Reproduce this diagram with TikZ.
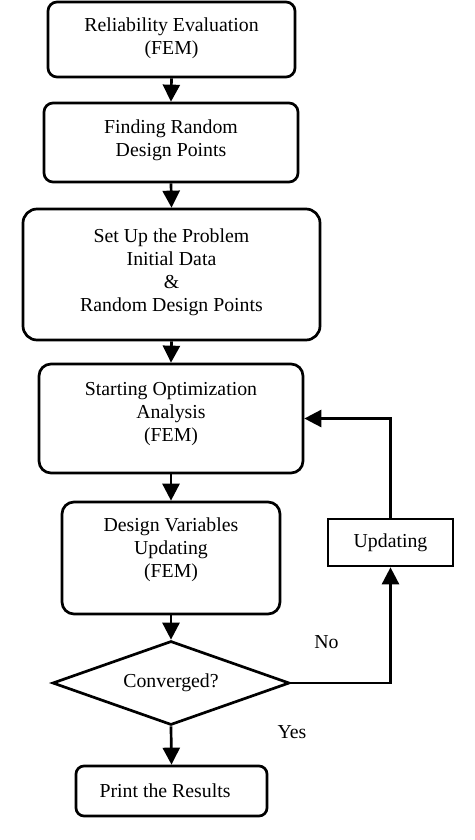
\documentclass[tikz,border=0pt]{standalone}
\usepackage{fontspec}
\setmainfont{Liberation Serif}
\usetikzlibrary{arrows.meta,shapes.geometric}
\begin{document}
\begin{tikzpicture}[x=1pt,y=-1pt,
  every node/.style={font=\fontsize{19.8}{23}\selectfont},
  rbox/.style={draw,line width=2.7pt,rounded corners=9pt,inner sep=0pt},
  sbox/.style={draw,line width=2.7pt,inner sep=0pt},
  txt/.style={align=center,inner sep=0pt},
  flow/.style={line width=2.7pt,-{Triangle[width=17pt,length=17pt]}},
  dec/.style={draw,line width=2.7pt,diamond,inner sep=0pt,minimum width=237pt,minimum height=84pt}]
\useasboundingbox (0,0) rectangle (474,840);
% boxes
\node[rbox,minimum width=247pt,minimum height=75pt] (b1) at (171.5,39.5) {};
\node[txt] (t1) at (171.5,38.5) {Reliability Evaluation\\(FEM)};
\node[rbox,minimum width=254pt,minimum height=79pt] (b2) at (171,142.5) {};
\node[txt] (t2) at (171,140) {Finding Random\\Design Points};
\node[rbox,rounded corners=14pt,minimum width=297pt,minimum height=131pt] (b3) at (171.5,274.5) {};
\node[txt] (t3) at (171.5,272) {Set Up the Problem\\Initial Data\\\&\\Random Design Points};
\node[rbox,rounded corners=12pt,minimum width=264pt,minimum height=109pt] (b4) at (171,418.5) {};
\node[txt] (t4) at (171,414.5) {Starting Optimization\\Analysis\\(FEM)};
\node[rbox,rounded corners=12pt,minimum width=218pt,minimum height=112pt] (b5) at (171,558) {};
\node[txt] (t5) at (171,550) {Design Variables\\Updating\\(FEM)};
\node[dec] (d) at (171,683) {};
\node[txt] (td) at (171,683) {Converged?};
\node[rbox,rounded corners=8pt,minimum width=191pt,minimum height=50pt] (b6) at (171.5,791) {};
\node[txt] (t6) at (165,791) {Print the Results};
\node[sbox,minimum width=125pt,minimum height=47pt] (up) at (390.5,542.5) {};
\node[txt] (tu) at (390.5,542.5) {Updating};
% labels
\node[txt] (no) at (326.5,642) {No};
\node[txt] (yes) at (292,732) {Yes};
% connectors
\draw[flow] (b1.south) -- (b2.north);
\draw[flow] (b2.south) -- (b3.north);
\draw[flow] (b3.south) -- (b4.north);
\draw[flow] (b4.south) -- (b5.north);
\draw[flow] (b5.south) -- (d.north);
\draw[flow] (d.south) -- (b6.north);
\draw[flow] (d.east) -| (up.south);
\draw[flow] (up.north) |- (b4.east);
\end{tikzpicture}
\end{document}
